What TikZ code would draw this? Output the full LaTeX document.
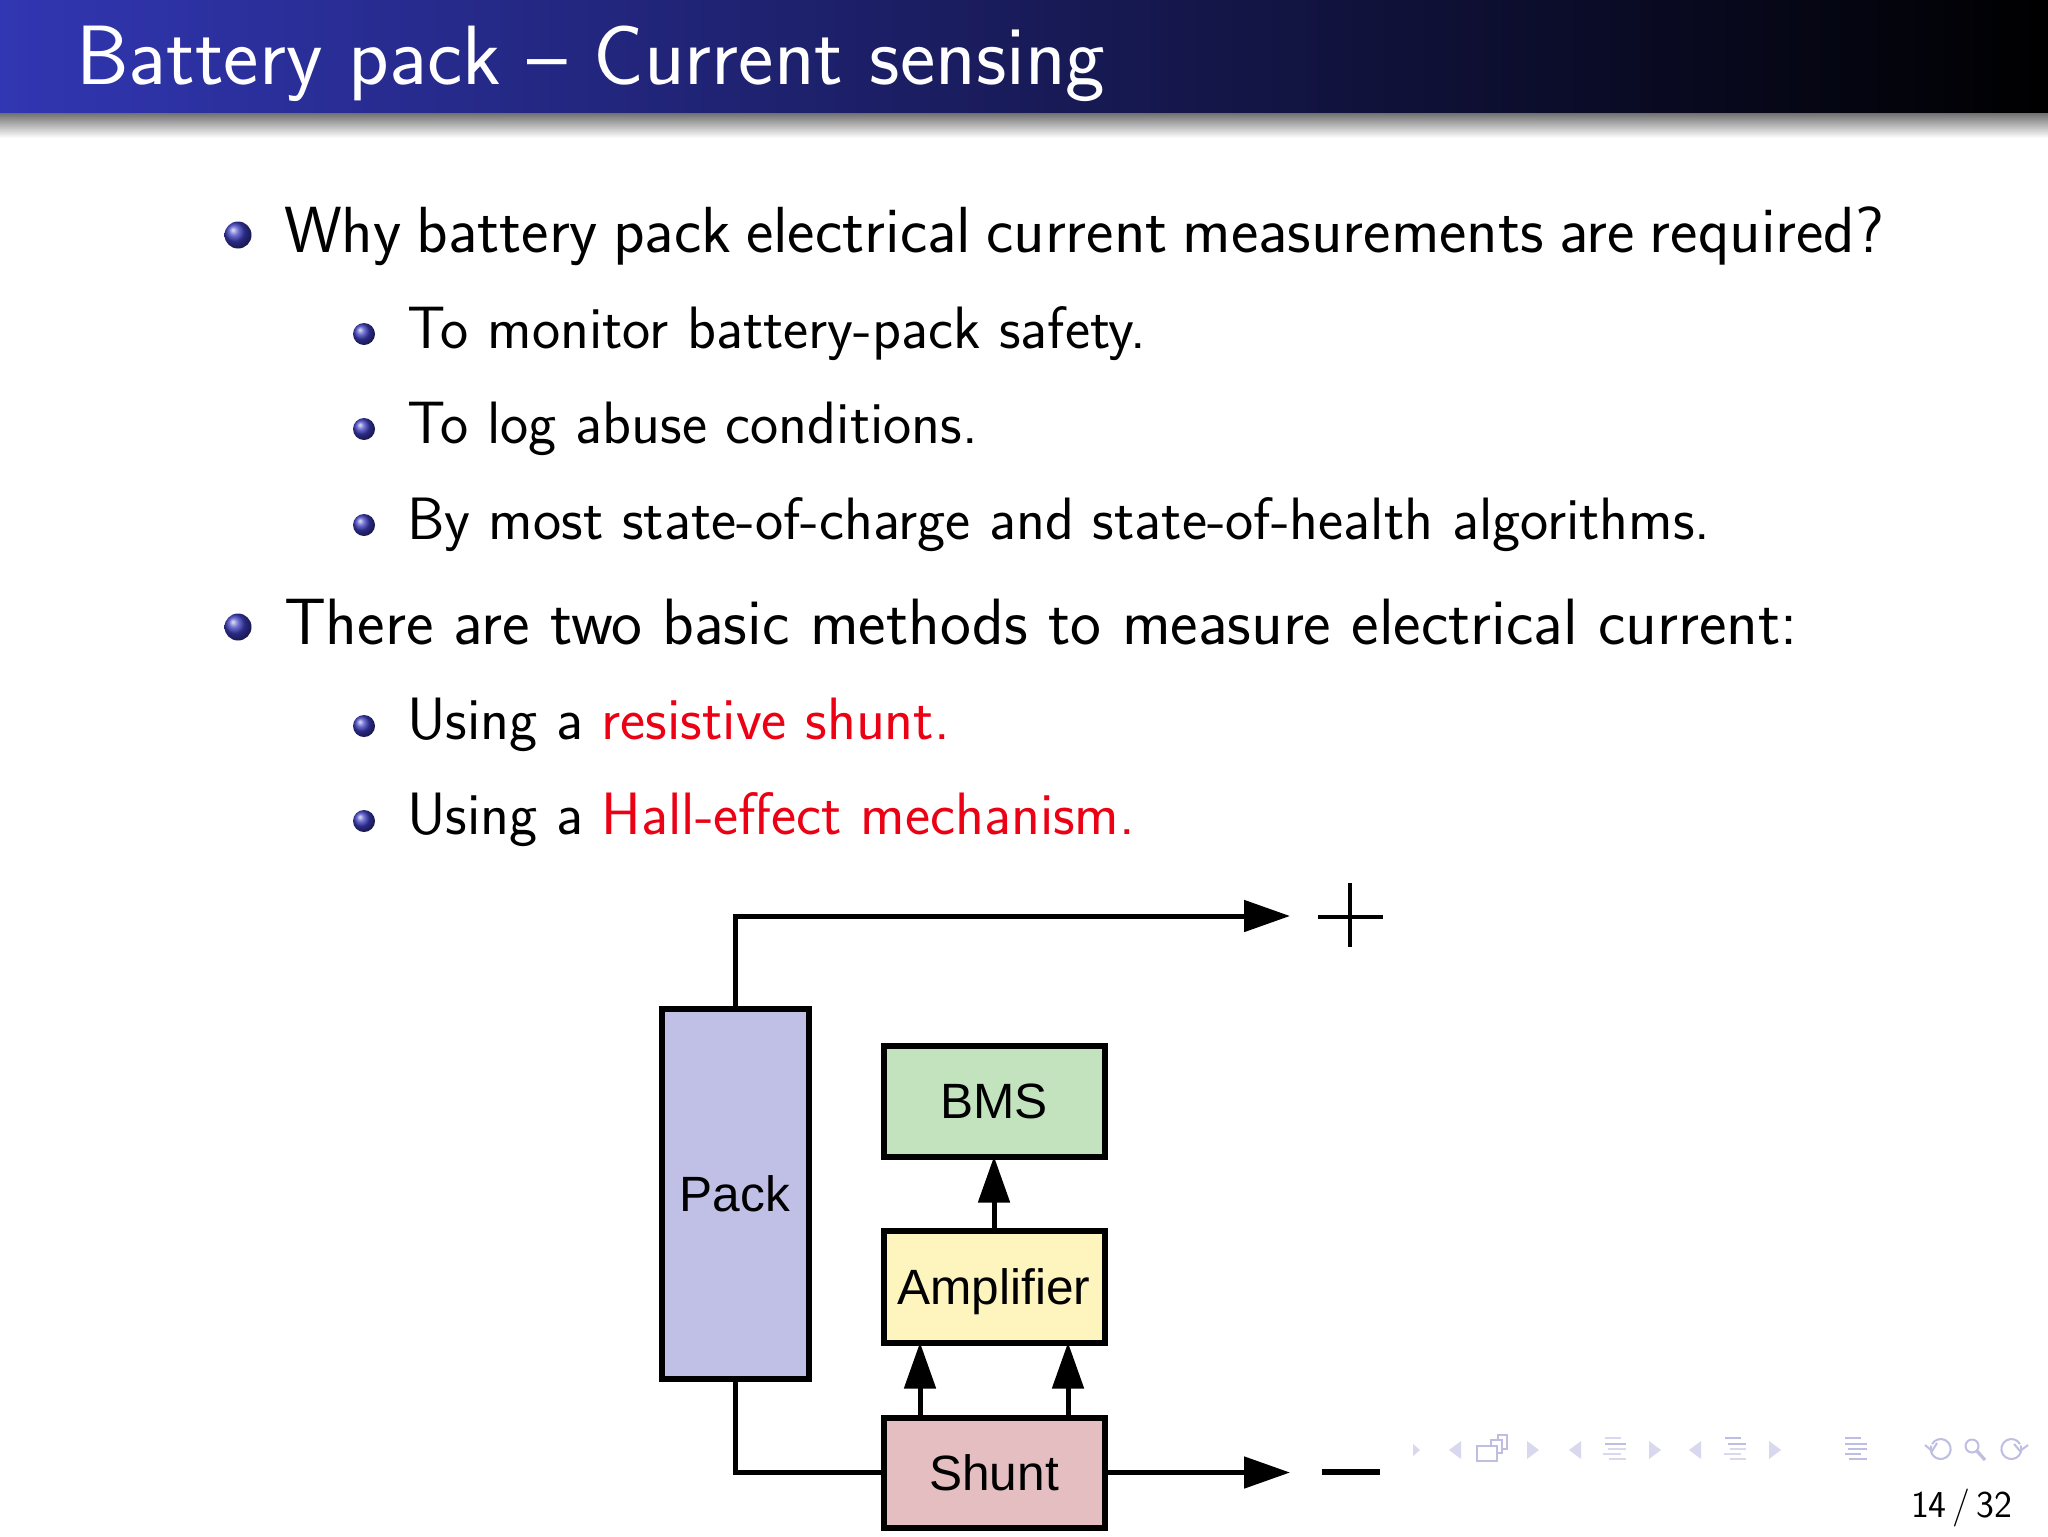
\documentclass[tikz,border=0pt]{standalone}
\usepackage{fontspec}
\newfontfamily\diagfont{Liberation Sans}
\usetikzlibrary{arrows.meta,calc}
\definecolor{hdrL}{RGB}{49,54,178}
\definecolor{hdrM}{RGB}{28,31,105}
\definecolor{navS}{RGB}{190,190,226}
\definecolor{navL}{RGB}{216,216,238}
\definecolor{bulC}{RGB}{60,60,190}
\definecolor{redT}{RGB}{235,0,20}
\definecolor{packC}{RGB}{192,192,230}
\definecolor{bmsC}{RGB}{194,227,190}
\definecolor{ampC}{RGB}{254,244,190}
\definecolor{shuntC}{RGB}{228,190,193}
\tikzset{
 txt/.style={anchor=base west,inner sep=0pt,outer sep=0pt,text=black,font=\sffamily},
 lvlA/.style={txt,font=\sffamily\fontsize{32.75}{36}\selectfont},
 lvlAt/.style={txt,font=\sffamily\fontsize{32.6}{36}\selectfont},
 lvlB/.style={txt,font=\sffamily\fontsize{29.9}{34}\selectfont},
 ballA/.style={circle,inner sep=0pt,minimum size=13.5pt,shading=ball,ball color=bulC},
 ballB/.style={circle,inner sep=0pt,minimum size=11pt,shading=ball,ball color=bulC},
 box/.style={draw=black,line width=3pt,inner sep=0pt,align=center,text height=17.8pt,text depth=0pt,font=\diagfont\fontsize{24.8}{28}\selectfont},
 wire/.style={draw=black,line width=2.5pt},
 conn/.style={wire,-{Triangle[length=23pt,width=15.5pt]}},
 connup/.style={conn,shorten >=-1.5pt},
 tri/.style={fill=navL,draw=none},
 navbar/.style={fill=navS,draw=none},
 navbarl/.style={fill=navL,draw=none},
 navline/.style={draw=navS,line width=1pt,fill=white},
}
\begin{document}
\begin{tikzpicture}[x=0.5pt,y=-0.5pt]
\useasboundingbox (0,0) rectangle (2048,1536);
\fill[white] (0,0) rectangle (2048,1536);
% header
\shade[top color=black!56,bottom color=white] (0,113) rectangle (2048,138);
\shade[left color=hdrL,middle color=hdrM,right color=black] (0,0) rectangle (2048,113);
\node[txt,text=white,font=\sffamily\fontsize{42.1}{46}\selectfont] (title) at (76,85) {Battery pack -- Current sensing};
% body
\node[ballA] (b1) at (238,235) {};
\node[lvlAt] (t1) at (284,252) {\spaceskip=7.5pt Why battery pack electrical current measurements are required?};
\node[ballB] (b2) at (364,334) {};
\node[lvlB] (t2) at (407,348) {To monitor battery-pack safety.};
\node[ballB] (b3) at (364,429) {};
\node[lvlB] (t3) at (407,443) {To log abuse conditions.};
\node[ballB] (b4) at (364,525) {};
\node[lvlB] (t4) at (407,539) {By most state-of-charge and state-of-health algorithms.};
\node[ballA] (b5) at (238,627) {};
\node[lvlA] (t5) at (284,644) {There are two basic methods to measure electrical current:};
\node[ballB] (b6) at (364,726) {};
\node[lvlB] (t6) at (407,739) {Using a {\color{redT}resistive shunt.}};
\node[ballB] (b7) at (364,821) {};
\node[lvlB] (t7) at (407,834) {Using a {\color{redT}Hall-effect mechanism.}};
% diagram
\node[box,fill=packC,minimum width=73.5pt,minimum height=185pt] (pack) at (735,1193.5) {Pack};
\node[box,fill=bmsC,minimum width=110.5pt,minimum height=55.5pt] (bms) at (994,1101) {BMS};
\node[box,fill=ampC,minimum width=110.5pt,minimum height=56pt] (amp) at (994,1286.5) {Amplifier};
\node[box,fill=shuntC,minimum width=110.5pt,minimum height=55pt] (shunt) at (994,1472.5) {Shunt};
\coordinate (ptip) at (1290,916);
\coordinate (mtip) at (1290,1472.5);
\draw[conn] (pack.north) |- (ptip);
\draw[wire] (pack.south) |- (shunt.west);
\draw[conn] (shunt.east) -- (mtip);
\draw[connup] (amp.north) -- (bms.south);
\draw[connup] ([xshift=-37pt]shunt.north) -- ([xshift=-37pt]amp.south);
\draw[connup] ([xshift=37pt]shunt.north) -- ([xshift=37pt]amp.south);
% plus and minus
\draw[black,line width=2.2pt] (1318,917) -- (1383,917) (1350,883) -- (1350,947);
\draw[black,line width=2.8pt] (1322,1472) -- (1380,1472);
% navigation symbols
\fill[tri] (1413,1444) -- (1420,1450) -- (1413,1456) -- cycle;
\fill[tri] (1461,1441) -- (1449,1450) -- (1461,1459) -- cycle;
\draw[navline] (1498,1435) rectangle (1507,1449);
\draw[navline] (1491,1440) rectangle (1502,1453);
\draw[navline] (1477,1446) rectangle (1497,1461);
\fill[tri] (1527,1441) -- (1539,1450) -- (1527,1459) -- cycle;
\fill[tri] (1581,1441) -- (1569,1450) -- (1581,1459) -- cycle;
\foreach \yy/\xa/\xb/\sty in {1438/1605/1621/navbarl,1444/1605/1626/navbar,1449/1608/1626/navbarl,1454/1603/1621/navbarl,1459/1609/1626/navbarl}
  {\fill[\sty] (\xa,\yy-1.2) rectangle (\xb,\yy+1.2);}
\fill[tri] (1649,1441) -- (1661,1450) -- (1649,1459) -- cycle;
\fill[tri] (1701,1441) -- (1689,1450) -- (1701,1459) -- cycle;
\foreach \yy/\xa/\xb/\sty in {1438/1725/1741/navbar,1444/1728/1746/navbar,1449/1730/1746/navbarl,1454/1724/1741/navbarl,1459/1730/1746/navbarl}
  {\fill[\sty] (\xa,\yy-1.2) rectangle (\xb,\yy+1.2);}
\fill[tri] (1769,1441) -- (1781,1450) -- (1769,1459) -- cycle;
\foreach \yy/\xa/\xb in {1438/1845/1861,1444/1845/1867,1449/1848/1867,1454/1845/1861,1459/1849/1867}
  {\fill[navbar] (\xa,\yy-1.2) rectangle (\xb,\yy+1.2);}
\begin{scope}[draw=navS,line width=1pt]
\draw (1932,1444) arc[start angle=150,end angle=-200,x radius=10,y radius=-10] ;
\draw (1925,1445) -- (1932,1451) -- (1937,1443);
\draw (1972,1446) circle[radius=6.5];
\draw[line width=1.6pt] (1977,1451) -- (1985,1460);
\draw (2020,1444) arc[start angle=30,end angle=380,x radius=10,y radius=-10];
\draw (2014,1444) -- (2020,1451) -- (2028,1445);
\end{scope}
\node[txt,font=\sffamily\fontsize{19}{22}\selectfont] (pg) at (1911,1517) {14\hspace{3pt}/\hspace{3pt}32};
\end{tikzpicture}
\end{document}
